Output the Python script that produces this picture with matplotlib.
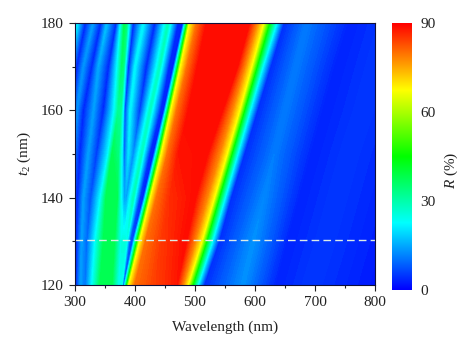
import numpy as np
import matplotlib
matplotlib.use('Agg')
import matplotlib.pyplot as plt
from matplotlib.colors import LinearSegmentedColormap

plt.rcParams['font.family'] = ['Liberation Serif', 'DejaVu Serif']
plt.rcParams['mathtext.fontset'] = 'custom'
plt.rcParams['mathtext.rm'] = 'Liberation Serif'
plt.rcParams['mathtext.it'] = 'Liberation Serif:italic'

t2_rows = [120, 130, 140, 150, 160, 170, 180]

# wavelength of each band edge / ridge, one list per feature, t2 = 120 ... 180
ridge_wl = [
    [240, 245, 250, 255, 260, 265, 295],
    [255, 265, 275, 285, 285, 290, 303],
    [266, 272, 278, 285, 293, 303, 317],
    [280, 285, 290, 296, 303, 314, 330],
    [302, 303, 304, 308, 314, 328, 343],
    [309, 311, 314, 322, 331, 339, 353],
    [317, 320, 326, 336, 347, 356, 369],
    [328, 333, 342, 355, 365, 370, 376],
    [342, 348, 352, 362, 372, 378, 382],
    [361, 365, 370, 372, 376, 381, 386],
    [372, 376, 376, 378, 380, 384, 390],
    [374, 379, 382, 382, 383, 389, 397],
    [375, 381, 384, 389, 392, 400, 414],
    [376, 383, 385, 397, 408, 419, 433],
    [378, 386, 397, 411, 425, 441, 455],
    [380, 391, 408, 424, 442, 456, 471],
    [381, 396, 414, 431, 448, 464, 480],
    [390, 408, 426, 444, 460, 476, 491],
    [400, 418, 436, 454, 470, 487, 503],
    [430, 445, 458, 472, 490, 505, 520],
    [470, 485, 500, 520, 545, 570, 590],
    [480, 500, 520, 541, 562, 583, 603],
    [488, 511, 532, 553, 574, 594, 614],
    [497, 520, 541, 562, 583, 604, 625],
    [505, 529, 550, 571, 592, 613, 636],
    [515, 540, 560, 582, 604, 626, 648],
    [580, 597, 615, 632, 650, 668, 686],
    [636, 655, 675, 695, 715, 735, 758],
    [692, 715, 735, 755, 780, 800, 820],
    [810, 830, 850, 870, 890, 910, 930],
]

# R (%) along the same features
ridge_r = [
    [14, 14, 14, 14, 14, 14, 12],
    [18, 18, 18, 18, 14, 18, 22],
    [3, 3, 3, 3, 3, 3, 3],
    [13, 13, 13, 13, 13, 13, 14],
    [4, 4, 3, 3, 3, 3, 3],
    [14, 14, 14, 14, 14, 15, 17],
    [10, 9, 7, 5, 3, 3, 3],
    [22, 22, 22, 22, 22, 22, 22],
    [38, 38, 38, 38, 32, 36, 38],
    [38, 38, 38, 34, 32, 34, 34],
    [24, 24, 24, 22, 22, 22, 22],
    [24, 26, 14, 8, 5, 3, 3],
    [24, 26, 15, 20, 22, 22, 22],
    [24, 26, 13, 12, 5, 3, 3],
    [24, 24, 29, 28, 28, 28, 29],
    [10, 8, 5, 4, 4, 4, 4],
    [8, 6, 3, 3, 3, 3, 3],
    [67, 67, 67, 67, 67, 67, 67],
    [80, 80, 80, 80, 80, 80, 80],
    [84, 85, 86, 88, 89, 89, 89],
    [88, 89, 89, 89, 89, 89, 89],
    [78, 78, 78, 78, 78, 78, 78],
    [67, 67, 67, 67, 67, 67, 67],
    [42, 42, 42, 42, 42, 42, 42],
    [22, 22, 22, 22, 22, 22, 22],
    [4, 4, 4, 4, 4, 4, 4],
    [13, 13, 12, 11, 11, 11, 11],
    [3, 3, 3, 3, 3, 3, 3],
    [5, 5, 5, 5, 5, 5, 5],
    [2, 2, 2, 2, 2, 2, 2],
]

x_ticks = [300, 400, 500, 600, 700, 800]
y_ticks = [120, 140, 160, 180]
cbar_ticks = [0, 30, 60, 90]
dash_t2 = 130.3

cmap = LinearSegmentedColormap.from_list(
    'rainbow_r', ['#0000ff', '#00ffff', '#00ff00', '#ffff00', '#ff0000'])

W, H = 474, 351
fig = plt.figure(figsize=(W / 100, H / 100), dpi=100)
ax = fig.add_axes([75 / W, 1 - 285 / H, 300 / W, 262 / H])

X = np.array(ridge_wl, dtype=float).T
Y = np.array([t2_rows] * len(ridge_wl), dtype=float).T
C = np.array(ridge_r, dtype=float).T
cs = ax.contourf(X, Y, C, levels=np.linspace(0, 90, 181), cmap=cmap, vmin=0, vmax=90, antialiased=False)

ax.plot([300, 800], [dash_t2, dash_t2], color='#dcebe6', lw=1.0, dashes=(5.5, 3))

ax.set_xlim(300, 800)
ax.set_ylim(120, 180)
ax.set_xticks(x_ticks)
ax.set_yticks(y_ticks)
ax.set_xticks([350, 450, 550, 650, 750], minor=True)
ax.set_yticks([130, 150, 170], minor=True)
ax.tick_params(which='major', length=4, width=0.8, labelsize=11, color='#222222', labelcolor='#222222', pad=4)
ax.tick_params(which='minor', length=2.5, width=0.8, color='#222222')
for s in ax.spines.values():
    s.set_linewidth(0.8)
    s.set_color('#10103a')
ax.set_xlabel('Wavelength (nm)', fontsize=11, color='#222222', labelpad=8)
ax.set_ylabel('$t_2$ (nm)', fontsize=11, color='#222222', labelpad=6)

cax = fig.add_axes([392 / W, 1 - 290 / H, 20 / W, 267 / H])
grad = np.linspace(0, 90, 256).reshape(-1, 1)
cax.imshow(grad, origin='lower', aspect='auto', cmap=cmap, vmin=0, vmax=90, extent=[0, 1, 0, 90])
cax.set_xticks([])
cax.yaxis.tick_right()
cax.set_yticks(cbar_ticks)
cax.tick_params(axis='y', length=0, labelsize=11, labelcolor='#222222', pad=6)
for s in cax.spines.values():
    s.set_visible(False)
fig.text(451 / W, 1 - 170 / H, '$R$ (%)', rotation=90, ha='center', va='center', fontsize=11, color='#222222')

fig.savefig('out.png', dpi=100)
